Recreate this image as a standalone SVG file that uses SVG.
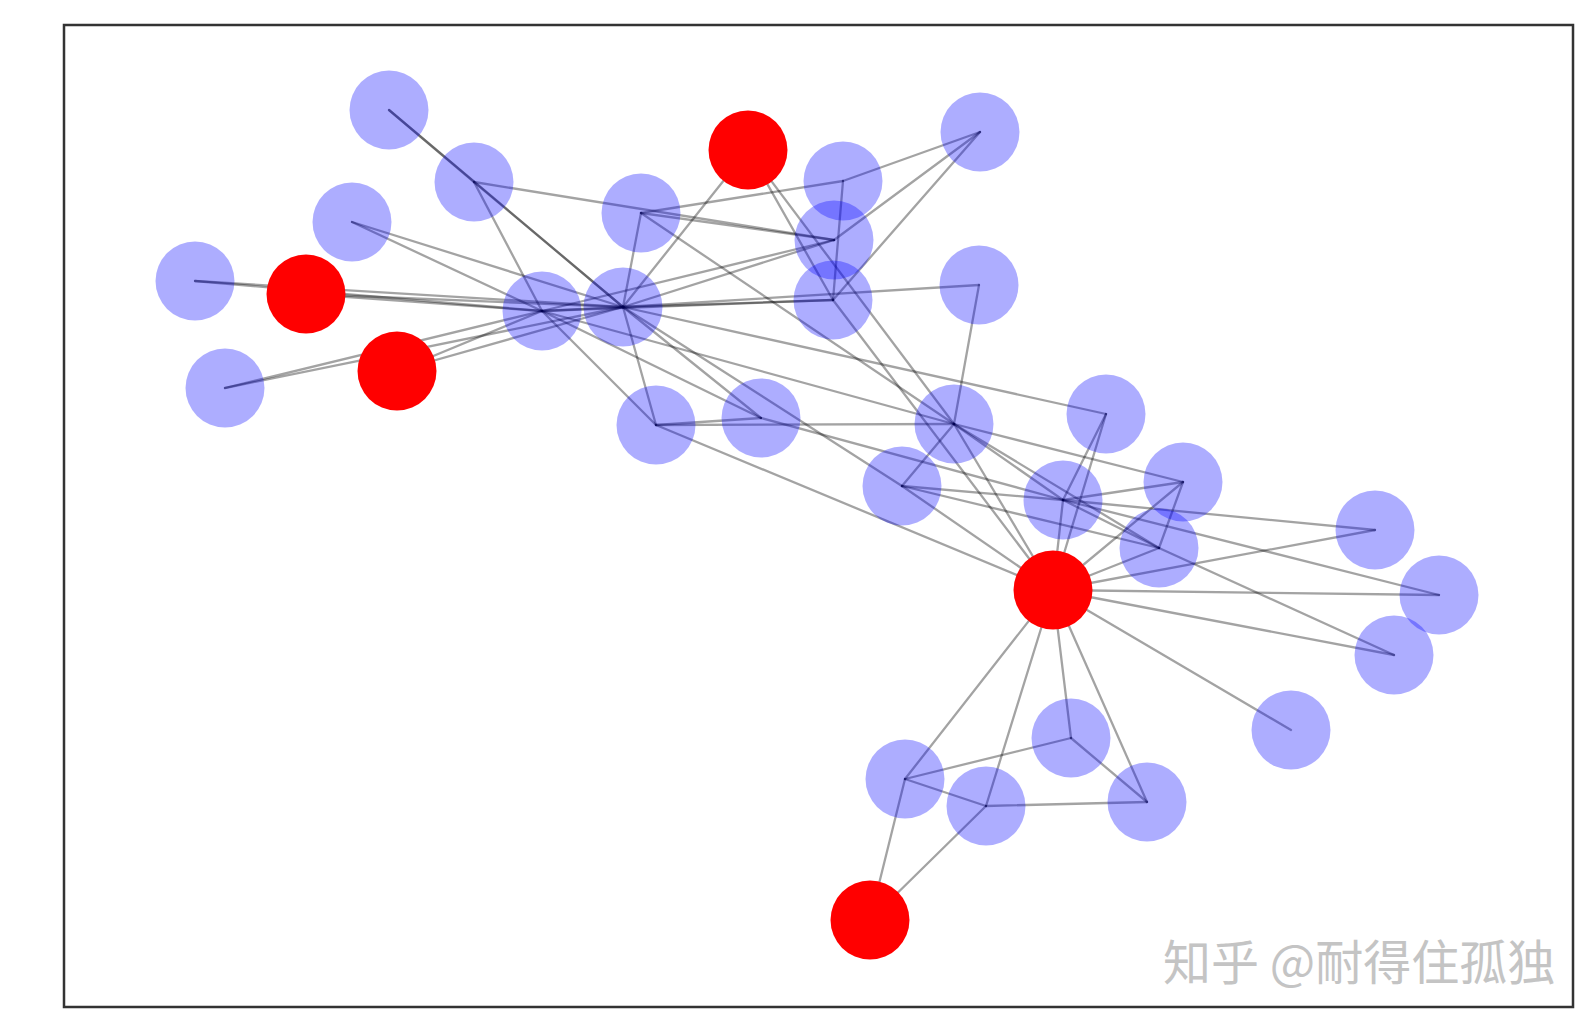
<svg xmlns="http://www.w3.org/2000/svg" width="1591" height="1025" viewBox="0 0 1591 1025">
<style>
.e line{stroke:#000;stroke-opacity:0.36;stroke-width:2.3;stroke-linecap:round}
.b{fill:#0000ff;fill-opacity:0.32}
.r{fill:#ff0000}
.wm{font-family:"Noto Sans CJK SC","Liberation Sans",sans-serif;font-size:48px;fill:#c4c4c4}
</style>
<rect x="0" y="0" width="1591" height="1025" fill="#fff"/>
<rect x="64" y="25" width="1509" height="982" fill="none" stroke="#333" stroke-width="2.5"/>
<g id="edges" class="e">
<line x1="1053" y1="590" x2="1063" y2="500"/>
<line x1="1053" y1="590" x2="954" y2="424"/>
<line x1="1053" y1="590" x2="1159" y2="548"/>
<line x1="1053" y1="590" x2="1147" y2="802"/>
<line x1="1053" y1="590" x2="905" y2="779"/>
<line x1="1053" y1="590" x2="986" y2="806"/>
<line x1="1053" y1="590" x2="1183" y2="482"/>
<line x1="1053" y1="590" x2="656" y2="425"/>
<line x1="1053" y1="590" x2="1071" y2="738"/>
<line x1="1053" y1="590" x2="1291" y2="730"/>
<line x1="1053" y1="590" x2="1394" y2="655"/>
<line x1="1053" y1="590" x2="902" y2="486"/>
<line x1="1053" y1="590" x2="1375" y2="530"/>
<line x1="1053" y1="590" x2="1106" y2="414"/>
<line x1="1053" y1="590" x2="1439" y2="595"/>
<line x1="1053" y1="590" x2="833" y2="300"/>
<line x1="1063" y1="500" x2="954" y2="424"/>
<line x1="1063" y1="500" x2="1159" y2="548"/>
<line x1="1063" y1="500" x2="1183" y2="482"/>
<line x1="1063" y1="500" x2="902" y2="486"/>
<line x1="1063" y1="500" x2="1375" y2="530"/>
<line x1="1063" y1="500" x2="1106" y2="414"/>
<line x1="1063" y1="500" x2="1439" y2="595"/>
<line x1="1063" y1="500" x2="761" y2="418"/>
<line x1="954" y1="424" x2="1159" y2="548"/>
<line x1="954" y1="424" x2="1183" y2="482"/>
<line x1="954" y1="424" x2="656" y2="425"/>
<line x1="954" y1="424" x2="979" y2="285"/>
<line x1="954" y1="424" x2="902" y2="486"/>
<line x1="954" y1="424" x2="641" y2="213"/>
<line x1="954" y1="424" x2="748" y2="150"/>
<line x1="954" y1="424" x2="542" y2="311"/>
<line x1="1159" y1="548" x2="1183" y2="482"/>
<line x1="1159" y1="548" x2="1394" y2="655"/>
<line x1="1159" y1="548" x2="902" y2="486"/>
<line x1="1147" y1="802" x2="986" y2="806"/>
<line x1="1147" y1="802" x2="1071" y2="738"/>
<line x1="905" y1="779" x2="986" y2="806"/>
<line x1="905" y1="779" x2="1071" y2="738"/>
<line x1="905" y1="779" x2="870" y2="920"/>
<line x1="986" y1="806" x2="870" y2="920"/>
<line x1="656" y1="425" x2="761" y2="418"/>
<line x1="656" y1="425" x2="542" y2="311"/>
<line x1="656" y1="425" x2="623" y2="307"/>
<line x1="979" y1="285" x2="623" y2="307"/>
<line x1="902" y1="486" x2="623" y2="307"/>
<line x1="352" y1="222" x2="542" y2="311"/>
<line x1="352" y1="222" x2="623" y2="307"/>
<line x1="195" y1="281" x2="542" y2="311"/>
<line x1="195" y1="281" x2="623" y2="307"/>
<line x1="306" y1="294" x2="542" y2="311"/>
<line x1="306" y1="294" x2="623" y2="307"/>
<line x1="1106" y1="414" x2="623" y2="307"/>
<line x1="225" y1="388" x2="542" y2="311"/>
<line x1="225" y1="388" x2="623" y2="307"/>
<line x1="397" y1="371" x2="542" y2="311"/>
<line x1="397" y1="371" x2="623" y2="307"/>
<line x1="834" y1="240" x2="980" y2="132"/>
<line x1="834" y1="240" x2="641" y2="213"/>
<line x1="834" y1="240" x2="474" y2="182"/>
<line x1="834" y1="240" x2="542" y2="311"/>
<line x1="834" y1="240" x2="623" y2="307"/>
<line x1="843" y1="181" x2="980" y2="132"/>
<line x1="843" y1="181" x2="641" y2="213"/>
<line x1="843" y1="181" x2="833" y2="300"/>
<line x1="980" y1="132" x2="833" y2="300"/>
<line x1="389" y1="110" x2="474" y2="182"/>
<line x1="389" y1="110" x2="623" y2="307"/>
<line x1="641" y1="213" x2="623" y2="307"/>
<line x1="748" y1="150" x2="833" y2="300"/>
<line x1="748" y1="150" x2="623" y2="307"/>
<line x1="474" y1="182" x2="542" y2="311"/>
<line x1="474" y1="182" x2="623" y2="307"/>
<line x1="761" y1="418" x2="542" y2="311"/>
<line x1="761" y1="418" x2="623" y2="307"/>
<line x1="833" y1="300" x2="542" y2="311"/>
<line x1="833" y1="300" x2="623" y2="307"/>
<line x1="542" y1="311" x2="623" y2="307"/>
</g>
<g id="nodes">
<g id="n0"><circle class="r" cx="1053" cy="590" r="39.5"/></g>
<g id="n1"><circle class="b" cx="1063" cy="500" r="39.5"/></g>
<g id="n2"><circle class="b" cx="954" cy="424" r="39.5"/></g>
<g id="n3"><circle class="b" cx="1159" cy="548" r="39.5"/></g>
<g id="n4"><circle class="b" cx="1147" cy="802" r="39.5"/></g>
<g id="n5"><circle class="b" cx="905" cy="779" r="39.5"/></g>
<g id="n6"><circle class="b" cx="986" cy="806" r="39.5"/></g>
<g id="n7"><circle class="b" cx="1183" cy="482" r="39.5"/></g>
<g id="n8"><circle class="b" cx="656" cy="425" r="39.5"/></g>
<g id="n9"><circle class="b" cx="979" cy="285" r="39.5"/></g>
<g id="n10"><circle class="b" cx="1071" cy="738" r="39.5"/></g>
<g id="n11"><circle class="b" cx="1291" cy="730" r="39.5"/></g>
<g id="n12"><circle class="b" cx="1394" cy="655" r="39.5"/></g>
<g id="n13"><circle class="b" cx="902" cy="486" r="39.5"/></g>
<g id="n14"><circle class="b" cx="352" cy="222" r="39.5"/></g>
<g id="n15"><circle class="b" cx="195" cy="281" r="39.5"/></g>
<g id="n16"><circle class="r" cx="870" cy="920" r="39.5"/></g>
<g id="n17"><circle class="b" cx="1375" cy="530" r="39.5"/></g>
<g id="n18"><circle class="r" cx="306" cy="294" r="39.5"/></g>
<g id="n19"><circle class="b" cx="1106" cy="414" r="39.5"/></g>
<g id="n20"><circle class="b" cx="225" cy="388" r="39.5"/></g>
<g id="n21"><circle class="b" cx="1439" cy="595" r="39.5"/></g>
<g id="n22"><circle class="r" cx="397" cy="371" r="39.5"/></g>
<g id="n23"><circle class="b" cx="834" cy="240" r="39.5"/></g>
<g id="n24"><circle class="b" cx="843" cy="181" r="39.5"/></g>
<g id="n25"><circle class="b" cx="980" cy="132" r="39.5"/></g>
<g id="n26"><circle class="b" cx="389" cy="110" r="39.5"/></g>
<g id="n27"><circle class="b" cx="641" cy="213" r="39.5"/></g>
<g id="n28"><circle class="r" cx="748" cy="150" r="39.5"/></g>
<g id="n29"><circle class="b" cx="474" cy="182" r="39.5"/></g>
<g id="n30"><circle class="b" cx="761" cy="418" r="39.5"/></g>
<g id="n31"><circle class="b" cx="833" cy="300" r="39.5"/></g>
<g id="n32"><circle class="b" cx="542" cy="311" r="39.5"/></g>
<g id="n33"><circle class="b" cx="623" cy="307" r="39.5"/></g>
</g>
<text class="wm" x="1163" y="980">知乎 @耐得住孤独</text>
</svg>
